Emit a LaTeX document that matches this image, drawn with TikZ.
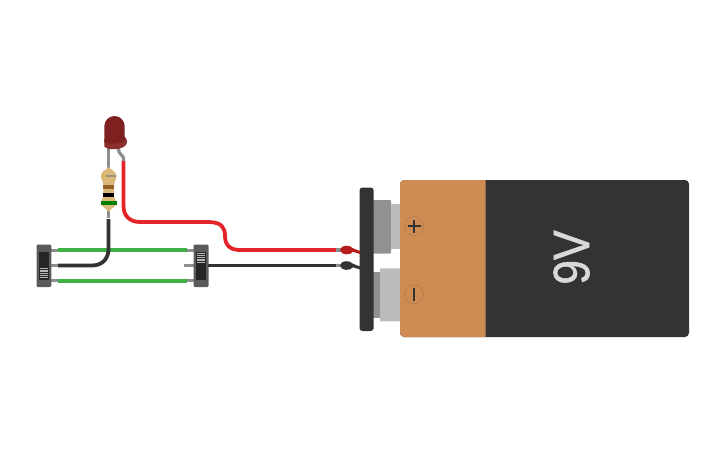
\documentclass[tikz,border=0pt]{standalone}
\usepackage{fontspec}
\setmainfont{Liberation Sans}
\newfontfamily\voltfont[FakeBold=1.2]{Liberation Sans}
\definecolor{caseblack}{HTML}{333333}
\definecolor{caseorange}{HTML}{CF8C52}
\definecolor{ringbrown}{HTML}{B07E4E}
\definecolor{termdark}{HTML}{919191}
\definecolor{termlight}{HTML}{BBBBBB}
\definecolor{pingray}{HTML}{8E8E8E}
\definecolor{wirered}{HTML}{E32428}
\definecolor{wiregreen}{HTML}{3CB043}
\definecolor{wireblack}{HTML}{333333}
\definecolor{plugred}{HTML}{B71C1C}
\definecolor{switchbody}{HTML}{5A5A5A}
\definecolor{switchslot}{HTML}{262626}
\definecolor{ledred}{HTML}{7E2020}
\definecolor{ledrim}{HTML}{8A2E2E}
\definecolor{restan}{HTML}{DBB97A}
\tikzset{
    wire/.style={line width=3.8pt, line join=round},
    pin/.style={pingray, line width=3.2pt},
    grip/.style={line width=1.3pt, draw=white!72!black},
}
\begin{document}
\begin{tikzpicture}[x=1pt,y=-1pt]
        \useasboundingbox (0,0) rectangle (725,453);
        % wire ends
        \coordinate (ledplus) at (123.5,161);
        \coordinate (resend) at (108.5,219);
        \coordinate (swoneup) at (58,250.3);
        \coordinate (swonemid) at (58,265.5);
        \coordinate (swonelow) at (58,280.7);
        \coordinate (swtwoup) at (187,250.3);
        \coordinate (swtwomid) at (208,265.5);
        \coordinate (swtwolow) at (187,280.7);
        \coordinate (plugplus) at (336,250);
        \coordinate (plugminus) at (336,265.5);
        % battery
        \fill [termdark] [rounded corners=1pt] (373,200) rectangle (391,253.5);
        \fill [termlight] (391,204) rectangle (401,249);
        \fill [termdark] (373,272.3) rectangle (381,317.7);
        \fill [termlight] [rounded corners=0.8pt] (380,268.3) rectangle (401,321.3);
        \fill [caseblack] [rounded corners=4pt] (400,180) rectangle (689,337);
        \begin{scope}
            \clip (399,179) rectangle (485.5,338);
            \fill [caseorange] [rounded corners=4pt] (400,180) rectangle (495,337);
        \end{scope}
        \fill [caseblack] [rounded corners=3pt] (359.5,187.5) rectangle (373.7,331);
        \draw [ringbrown, line width=0.7pt] (414,226) circle [radius=9.5];
        \draw [ringbrown, line width=0.7pt] (414,294.3) circle [radius=9.5];
        \draw [caseblack, line width=1.3pt] (407.5,226) -- (420.5,226) (414,219.5) -- (414,232.5);
        \draw [caseblack, line width=1.3pt] (414,287.5) -- (414,301);
        \node (volts) [text=white!85!black, font=\voltfont\fontsize{51}{51}\selectfont, rotate=90, xscale=0.87, inner sep=0pt] at (571.5,257.5) {9V};
        % switches
        \draw [pin] (51,250.3) -- (swoneup);
        \draw [pin] (51,265.5) -- (swonemid);
        \draw [pin] (51,280.7) -- (swonelow);
        \draw [pin] (swtwoup) -- (194,250.3);
        \draw [pin] (184,265.5) -- (194,265.5);
        \draw [pin] (swtwolow) -- (194,280.7);
        \fill [switchbody] [rounded corners=1.2pt] (36.5,244.5) rectangle (51.3,287);
        \fill [switchbody] [rounded corners=1.2pt] (193.5,244.5) rectangle (208.5,287);
        \fill [switchslot] (38.8,251.5) rectangle (49.2,279.5);
        \fill [switchslot] (195.8,251.5) rectangle (206.2,279.5);
        \foreach \y in {268.6,270.9,273.2,275.5,277.8}
            \draw [grip] (39.8,\y) -- (48.2,\y);
        \foreach \y in {253.2,255.5,257.8,260.1,262.4}
            \draw [grip] (196.8,\y) -- (205.2,\y);
        % wires
        \draw [wire, wiregreen] (swoneup) -- (swtwoup);
        \draw [wire, wiregreen] (swonelow) -- (swtwolow);
        \draw [wire, wireblack] (swonemid) -- (92,265.5) .. controls (102,265.5) and (108.5,259) .. (108.5,249) -- (resend);
        \draw [wire, wireblack] (swtwomid) -- (plugminus);
        \draw [wire, wirered] (ledplus) -- (123.5,206) .. controls (123.5,216) and (130,222) .. (140,222)
            -- (208,222) .. controls (222,222) and (225,228) .. (225,236) .. controls (225,245) and (230,250) .. (240,250) -- (plugplus);
        % plugs
        \draw [pin] (plugplus) -- (342,250);
        \draw [pin] (plugminus) -- (342,265.5);
        \fill [plugred] (340,250) .. controls (341,244.5) and (350,244.5) .. (353,248.3) -- (360,251) -- (360,254) -- (353,251.8) .. controls (350,255.5) and (341,255.5) .. (340,250) -- cycle;
        \fill [wireblack] (340,265.5) .. controls (341,260) and (350,260) .. (353,263.8) -- (360,266.5) -- (360,269.5) -- (353,267.3) .. controls (350,271) and (341,271) .. (340,265.5) -- cycle;
        % led
        \draw [pin] (108.5,148) -- (108.5,170);
        \draw [pin, line join=round] (118.5,148) -- (119,152) -- (123.5,157.5) -- (123.5,161);
        \fill [ledrim] (104.3,139) -- (124.7,136.5) .. controls (128,140) and (127.5,144) .. (125,146)
            .. controls (120,150) and (108,150.5) .. (104.3,146.5) -- cycle;
        \fill [ledred] (104.3,142.5) -- (104.3,126.2) .. controls (104.3,120.6) and (108.9,116) .. (114.5,116)
            .. controls (120.1,116) and (124.7,120.6) .. (124.7,126.2) -- (124.7,139.5) .. controls (121,144) and (108,144.5) .. (104.3,142.5) -- cycle;
        % resistor
        \draw [pin] (108.5,209) -- (108.5,218);
        \fill [restan] (108.7,167) .. controls (110.5,170) and (116.5,171) .. (116.5,176) .. controls (116.5,180) and (114,181) .. (114,184)
            -- (114,196) .. controls (114,199) and (116.5,199.5) .. (116.5,203) .. controls (116.5,207) and (110.5,208) .. (108.7,212)
            .. controls (106.5,208) and (100.9,207) .. (100.9,203) .. controls (100.9,199.5) and (103.3,199) .. (103.3,196)
            -- (103.3,184) .. controls (103.3,181) and (100.9,180) .. (100.9,176) .. controls (100.9,171) and (106.5,170) .. (108.7,167) -- cycle;
        \fill [yellow!45!restan!85!black] (101.2,174.8) rectangle (105.5,176.8);
        \fill [gray!70!restan] (105.5,174.8) rectangle (116.2,176.8);
        \fill [brown!85!orange!75!black] (103.3,185) rectangle (114,189.3);
        \fill [black] (103.3,192.7) rectangle (114,196.7);
        \fill [green!50!black] (100.9,200.7) rectangle (116.5,204.7);
    \end{tikzpicture}
\end{document}
